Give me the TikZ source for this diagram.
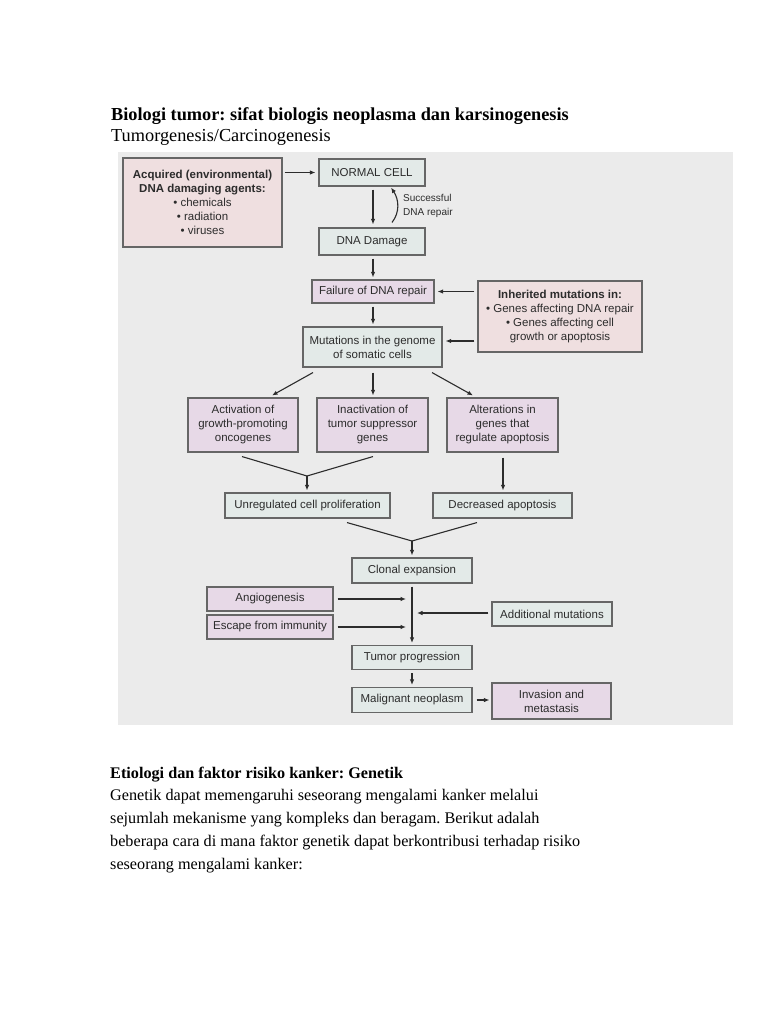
\documentclass[tikz,border=0pt]{standalone}
\usepackage{fontspec}
\setmainfont{Liberation Serif}
\newfontfamily\figsans{Liberation Sans}
\usetikzlibrary{arrows.meta}
\definecolor{figbg}{HTML}{EBEBEB}
\definecolor{pinkf}{HTML}{EFDFE0}
\definecolor{lavf}{HTML}{E7D9E7}
\definecolor{grnf}{HTML}{E3EAE8}
\definecolor{bord}{HTML}{666666}
\definecolor{ftext}{HTML}{2C2C2C}
\definecolor{arr}{HTML}{2C2C2C}
\frenchspacing
\begin{document}
\begin{tikzpicture}[x=1pt,y=-1pt,
  box/.style={draw=bord, line width=1.1pt, inner sep=0pt, align=center, text=ftext,
    font=\figsans\fontsize{11.5}{14}\selectfont},
  pinkbox/.style={box, fill=pinkf},
  lavbox/.style={box, fill=lavf},
  grnbox/.style={box, fill=grnf},
  conn/.style={draw=arr, line width=1.1pt, -{Latex[length=5.5pt,width=4.5pt]}},
  seg/.style={draw=arr, line width=1.1pt},
  doctext/.style={anchor=base west, inner sep=0pt, font=\fontsize{16.2}{19}\selectfont},
  doctitle/.style={doctext, font=\bfseries\fontsize{16.2}{19}\selectfont},
  toptext/.style={anchor=base west, inner sep=0pt, font=\fontsize{18.3}{21}\selectfont},
  toptitle/.style={toptext, font=\bfseries\fontsize{18.3}{21}\selectfont},
  lbl/.style={inner sep=0pt, align=left, text=ftext, font=\figsans\fontsize{10}{14}\selectfont}
]
\useasboundingbox (0,0) rectangle (768,1024);
\fill[white] (0,0) rectangle (768,1024);
\fill[figbg] (118,152) rectangle (733,725);

% document text
\node[toptitle] (t1) at (111,121) {Biologi tumor: sifat biologis neoplasma dan karsinogenesis};
\node[toptext] (t2) at (111,142) {Tumorgenesis/Carcinogenesis};
\node[doctitle] (b1) at (110,778) {Etiologi dan faktor risiko kanker: Genetik};
\node[doctext] (b2) at (110,800) {Genetik dapat memengaruhi seseorang mengalami kanker melalui};
\node[doctext] (b3) at (110,823) {sejumlah mekanisme yang kompleks dan beragam. Berikut adalah};
\node[doctext] (b4) at (110,846) {beberapa cara di mana faktor genetik dapat berkontribusi terhadap risiko};
\node[doctext] (b5) at (110,869) {seseorang mengalami kanker:};

% boxes
\node[pinkbox, minimum width=159pt, minimum height=89pt] (acq) at (202.5,202.5)
  {\textbf{Acquired (environmental)}\\\textbf{DNA damaging agents:}\\• chemicals\\• radiation\\• viruses};
\node[grnbox, minimum width=106pt, minimum height=27pt] (normal) at (372,172.5) {NORMAL CELL};
\node[grnbox, minimum width=106pt, minimum height=27pt] (dnadmg) at (372,241.5) {DNA Damage};
\node[lavbox, minimum width=122pt, minimum height=23pt] (failure) at (373,291.5) {Failure of DNA repair};
\node[pinkbox, minimum width=164pt, minimum height=71pt] (inher) at (560,316.5)
  {\textbf{Inherited mutations in:}\\• Genes affecting DNA repair\\• Genes affecting cell\\growth or apoptosis};
\node[grnbox, minimum width=139pt, minimum height=40pt] (mut) at (372.5,347)
  {Mutations in the genome\\of somatic cells};
\node[lavbox, minimum width=110pt, minimum height=54pt] (act) at (243,425)
  {Activation of\\growth-promoting\\oncogenes};
\node[lavbox, minimum width=111pt, minimum height=54pt] (inact) at (372.5,425)
  {Inactivation of\\tumor suppressor\\genes};
\node[lavbox, minimum width=111pt, minimum height=54pt] (alt) at (502.5,425)
  {Alterations in\\genes that\\regulate apoptosis};
\node[grnbox, minimum width=165pt, minimum height=25pt] (unreg) at (307.5,505.5) {Unregulated cell proliferation};
\node[grnbox, minimum width=139pt, minimum height=25pt] (decr) at (502.5,505.5) {Decreased apoptosis};
\node[grnbox, minimum width=120pt, minimum height=25pt] (clonal) at (412,570.5) {Clonal expansion};
\node[lavbox, minimum width=126pt, minimum height=24pt] (angio) at (270,599) {Angiogenesis};
\node[lavbox, minimum width=126pt, minimum height=24pt] (escape) at (270,627) {Escape from immunity};
\node[grnbox, minimum width=120pt, minimum height=24pt] (addmut) at (552,614) {Additional mutations};
\node[grnbox, minimum width=120pt, minimum height=24pt] (tumor) at (412,657.5) {Tumor progression};
\node[grnbox, minimum width=120pt, minimum height=25pt] (malig) at (412,700) {Malignant neoplasm};
\node[lavbox, minimum width=119pt, minimum height=36pt] (invas) at (551.5,701) {Invasion and\\metastasis};

\node[lbl, anchor=west] (rep) at (403,206) {Successful\\DNA repair};

% connectors
\draw[conn] ([xshift=2pt]acq.east |- normal.west) -- ([xshift=-3pt]normal.west);
\draw[conn] ([xshift=1pt,yshift=-3pt]normal.south) -- ([xshift=1pt,yshift=3pt]dnadmg.north);
\coordinate (rb) at ([xshift=20pt,yshift=5pt]dnadmg.north);
\coordinate (rt) at ([xshift=19pt,yshift=-1pt]normal.south);
\draw[conn] (rb) .. controls ([xshift=8pt,yshift=10pt]rb) and ([xshift=8pt,yshift=-12pt]rt) .. (rt);
\draw[conn] ([xshift=1pt,yshift=-3pt]dnadmg.south) -- ([yshift=2pt]failure.north);
\draw[conn] ([xshift=-3pt]inher.west |- failure.east) -- ([xshift=3pt]failure.east);
\draw[conn] ([yshift=-3pt]failure.south) -- ([xshift=0.5pt,yshift=2pt]mut.north);
\draw[conn] ([xshift=-3pt,yshift=-24.5pt]inher.west) -- ([xshift=3pt,yshift=6pt]mut.east);

\coordinate (m1) at ([xshift=-59.5pt,yshift=-5pt]mut.south);
\coordinate (m2) at ([xshift=0.5pt,yshift=-5pt]mut.south);
\coordinate (m3) at ([xshift=59.5pt,yshift=-5pt]mut.south);
\draw[conn] (m1) -- ([xshift=29pt,yshift=2pt]act.north);
\draw[conn] (m2) -- ([xshift=0.5pt,yshift=2pt]inact.north);
\draw[conn] (m3) -- ([xshift=-29.5pt,yshift=2pt]alt.north);

\coordinate (j1) at (307,476);
\draw[seg] ([xshift=-1pt,yshift=-4pt]act.south) -- (j1);
\draw[seg] ([xshift=0.5pt,yshift=-4pt]inact.south) -- (j1);
\draw[conn] (j1) -- ([xshift=-0.5pt,yshift=2pt]unreg.north);
\draw[conn] ([xshift=0.5pt,yshift=-5pt]alt.south) -- ([xshift=0.5pt,yshift=2pt]decr.north);

\coordinate (j2) at (412,541);
\draw[seg] ([xshift=39.5pt,yshift=-4pt]unreg.south) -- (j2);
\draw[seg] ([xshift=-25.5pt,yshift=-4pt]decr.south) -- (j2);
\draw[conn] (j2) -- ([yshift=2pt]clonal.north);

\draw[conn] ([yshift=-3pt]clonal.south) -- ([yshift=2pt]tumor.north);
\draw[conn] ([xshift=4pt]angio.east) -- ([xshift=-6pt]angio.east -| clonal.south);
\draw[conn] ([xshift=4pt]escape.east) -- ([xshift=-6pt]escape.east -| clonal.south);
\draw[conn] ([xshift=-3pt,yshift=1pt]addmut.west) -- ([xshift=5pt,yshift=1pt]addmut.west -| clonal.south);
\draw[conn] ([yshift=-3pt]tumor.south) -- ([yshift=2pt]malig.north);
\draw[conn] ([xshift=4pt]malig.east) -- ([xshift=-2pt]malig.east -| invas.west);
\end{tikzpicture}
\end{document}
